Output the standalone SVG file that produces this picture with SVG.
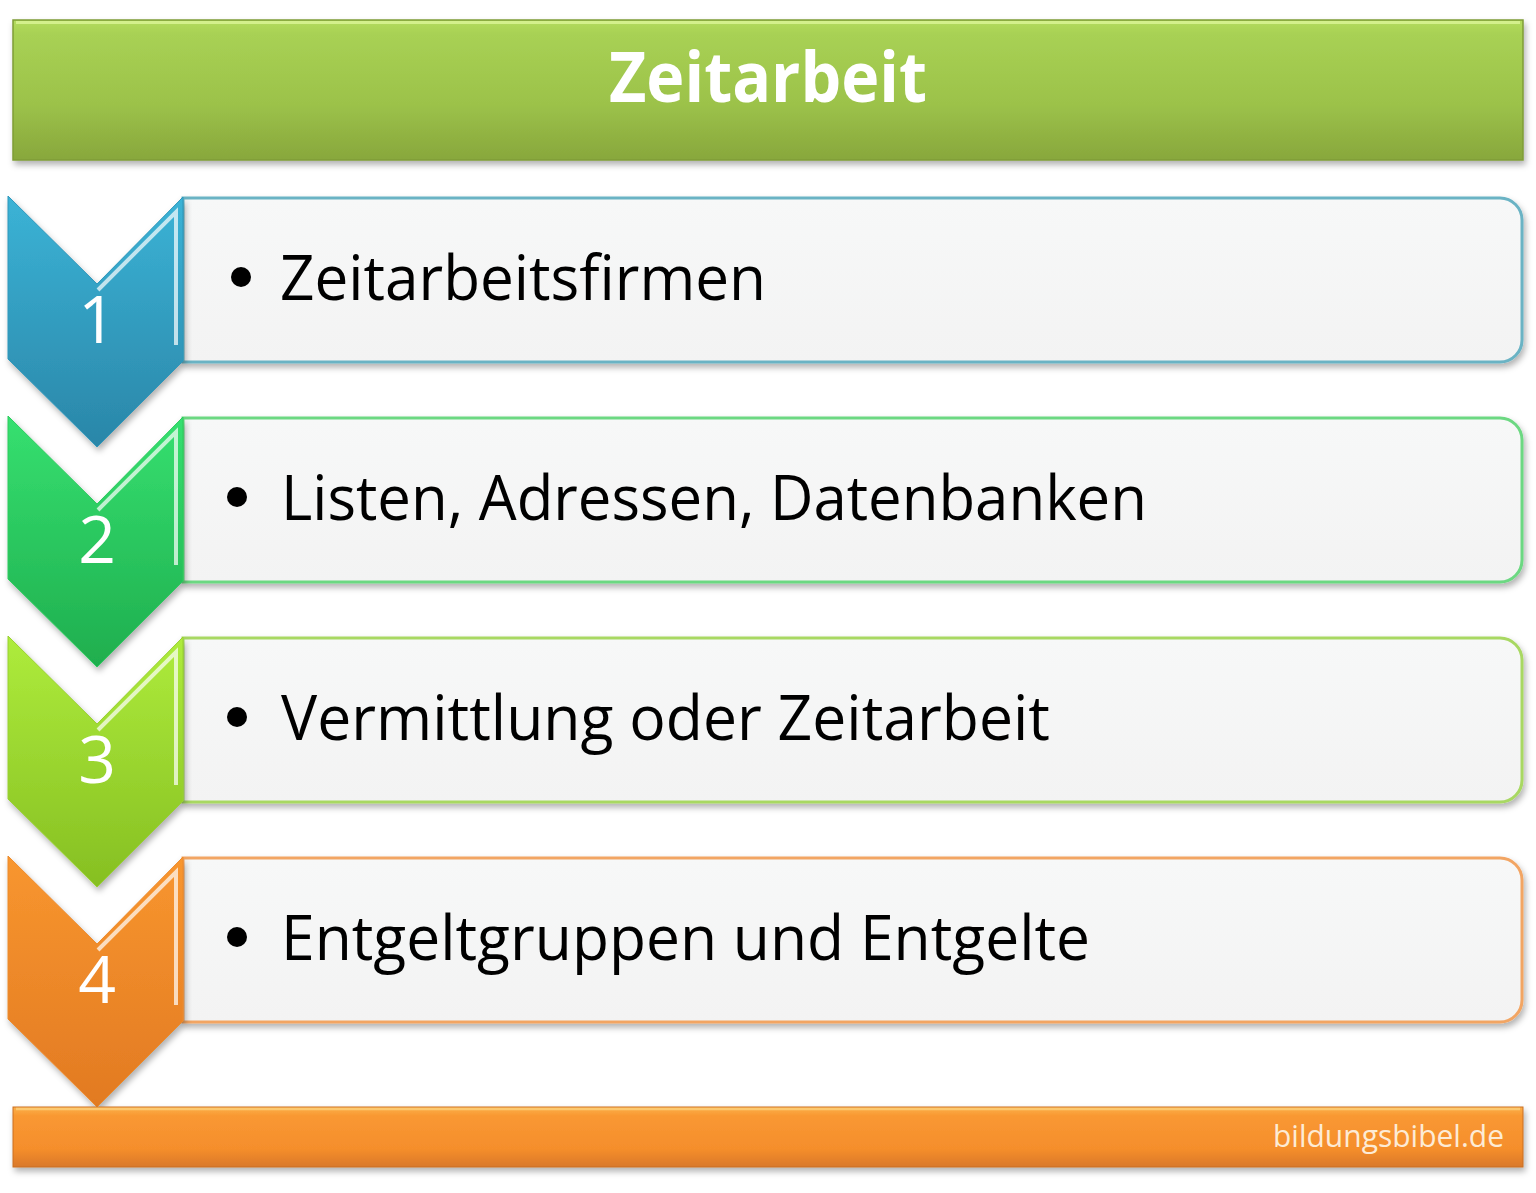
<svg xmlns="http://www.w3.org/2000/svg" width="1536" height="1193" viewBox="0 0 1536 1193">
<style>
.item{font-family:"Open Sans","Liberation Sans",sans-serif;font-size:63px;fill:#000}
.num{font-family:"Open Sans","Liberation Sans",sans-serif;font-size:66px;font-weight:normal;fill:#fff;text-anchor:middle}
.title{font-family:"Open Sans","Liberation Sans",sans-serif;font-size:69px;font-weight:bold;fill:#fff}
.foot{font-family:"Open Sans","Liberation Sans",sans-serif;font-size:31px;fill:#fdebd5}
.box{fill:url(#boxg);stroke-width:3}
.hl{fill:none;stroke:#fff;stroke-width:4;stroke-opacity:0.7}
</style>
<defs>
<filter id="sh" x="-5%" y="-10%" width="110%" height="130%">
<feDropShadow dx="2" dy="4" stdDeviation="3" flood-color="#000" flood-opacity="0.3"/>
</filter>
<linearGradient id="boxg" x1="0" y1="0" x2="0" y2="1">
<stop offset="0" stop-color="#f7f8f8"/><stop offset="1" stop-color="#f3f3f3"/>
</linearGradient>
<linearGradient id="titleg" x1="0" y1="0" x2="0" y2="1">
<stop offset="0" stop-color="#b4dc5e"/><stop offset="0.1" stop-color="#a8d154"/><stop offset="0.6" stop-color="#9cc24a"/><stop offset="1" stop-color="#88a73c"/>
</linearGradient>
<linearGradient id="footg" x1="0" y1="0" x2="0" y2="1">
<stop offset="0" stop-color="#fbb04a"/><stop offset="0.15" stop-color="#f99832"/><stop offset="0.7" stop-color="#f58e2c"/><stop offset="1" stop-color="#d9782a"/>
</linearGradient>
<linearGradient id="c1" x1="0" y1="0" x2="0" y2="1">
<stop offset="0" stop-color="#3bb3d6"/><stop offset="1" stop-color="#2a86a8"/>
</linearGradient>
<linearGradient id="c2" x1="0" y1="0" x2="0" y2="1">
<stop offset="0" stop-color="#36e070"/><stop offset="1" stop-color="#1fae4e"/>
</linearGradient>
<linearGradient id="c3" x1="0" y1="0" x2="0" y2="1">
<stop offset="0" stop-color="#aeec3c"/><stop offset="1" stop-color="#86bf22"/>
</linearGradient>
<linearGradient id="c4" x1="0" y1="0" x2="0" y2="1">
<stop offset="0" stop-color="#f8962f"/><stop offset="1" stop-color="#e27a22"/>
</linearGradient>
<path id="chev" d="M8,196 L97,284 L183,197 L183,361 L97,447 L8,359 Z"/>
<path id="rbox" d="M183,198 H1500 A22,22 0 0 1 1522,220 V340 A22,22 0 0 1 1500,362 H183 Z"/>
</defs>

<rect width="1536" height="1193" fill="#fff"/>

<g id="title">
<rect x="13" y="20" width="1510" height="140" fill="url(#titleg)" stroke="#7f9d36" stroke-width="1.5" filter="url(#sh)"/>
<line x1="16" y1="22.5" x2="1520" y2="22.5" stroke="#d4f08c" stroke-width="3"/>
<text class="title" x="609" y="102" textLength="318" lengthAdjust="spacingAndGlyphs">Zeitarbeit</text>
</g>

<g id="step1">
<use href="#rbox" class="box" stroke="#6ab3c4" filter="url(#sh)"/>
<use href="#chev" fill="url(#c1)" stroke="#2f97bb" stroke-width="1" filter="url(#sh)"/>
<polyline class="hl" points="98,290 176,212 176,345"/>
<text class="num" x="97" y="343">1</text>
<circle cx="241" cy="277" r="10"/>
<text class="item" x="280" y="300" textLength="486" lengthAdjust="spacingAndGlyphs">Zeitarbeitsfirmen</text>
</g>

<g id="step2" transform="translate(0,220)">
<use href="#rbox" class="box" stroke="#6cd882" filter="url(#sh)"/>
<use href="#chev" fill="url(#c2)" stroke="#2ccb5e" stroke-width="1" filter="url(#sh)"/>
<polyline class="hl" points="98,290 176,212 176,345"/>
<text class="num" x="97" y="343">2</text>
<circle cx="237" cy="277" r="10"/>
<text class="item" x="281" y="300" textLength="866" lengthAdjust="spacingAndGlyphs">Listen, Adressen, Datenbanken</text>
</g>

<g id="step3" transform="translate(0,440)">
<use href="#rbox" class="box" stroke="#a8d862" filter="url(#sh)"/>
<use href="#chev" fill="url(#c3)" stroke="#98d030" stroke-width="1" filter="url(#sh)"/>
<polyline class="hl" points="98,290 176,212 176,345"/>
<text class="num" x="97" y="343">3</text>
<circle cx="237" cy="277" r="10"/>
<text class="item" x="281" y="300" textLength="769" lengthAdjust="spacingAndGlyphs">Vermittlung oder Zeitarbeit</text>
</g>

<g id="step4" transform="translate(0,660)">
<use href="#rbox" class="box" stroke="#f2a564" filter="url(#sh)"/>
<use href="#chev" fill="url(#c4)" stroke="#ec8a2c" stroke-width="1" filter="url(#sh)"/>
<polyline class="hl" points="98,290 176,212 176,345"/>
<text class="num" x="97" y="343">4</text>
<circle cx="237" cy="277" r="10"/>
<text class="item" x="281" y="300" textLength="809" lengthAdjust="spacingAndGlyphs">Entgeltgruppen und Entgelte</text>
</g>

<g id="footer">
<rect x="13" y="1107" width="1510" height="60" fill="url(#footg)" stroke="#c96f22" stroke-width="1" filter="url(#sh)"/>
<line x1="16" y1="1109" x2="1520" y2="1109" stroke="#fcc870" stroke-width="2.5"/>
<text class="foot" x="1273" y="1147" textLength="231" lengthAdjust="spacingAndGlyphs">bildungsbibel.de</text>
</g>
</svg>
